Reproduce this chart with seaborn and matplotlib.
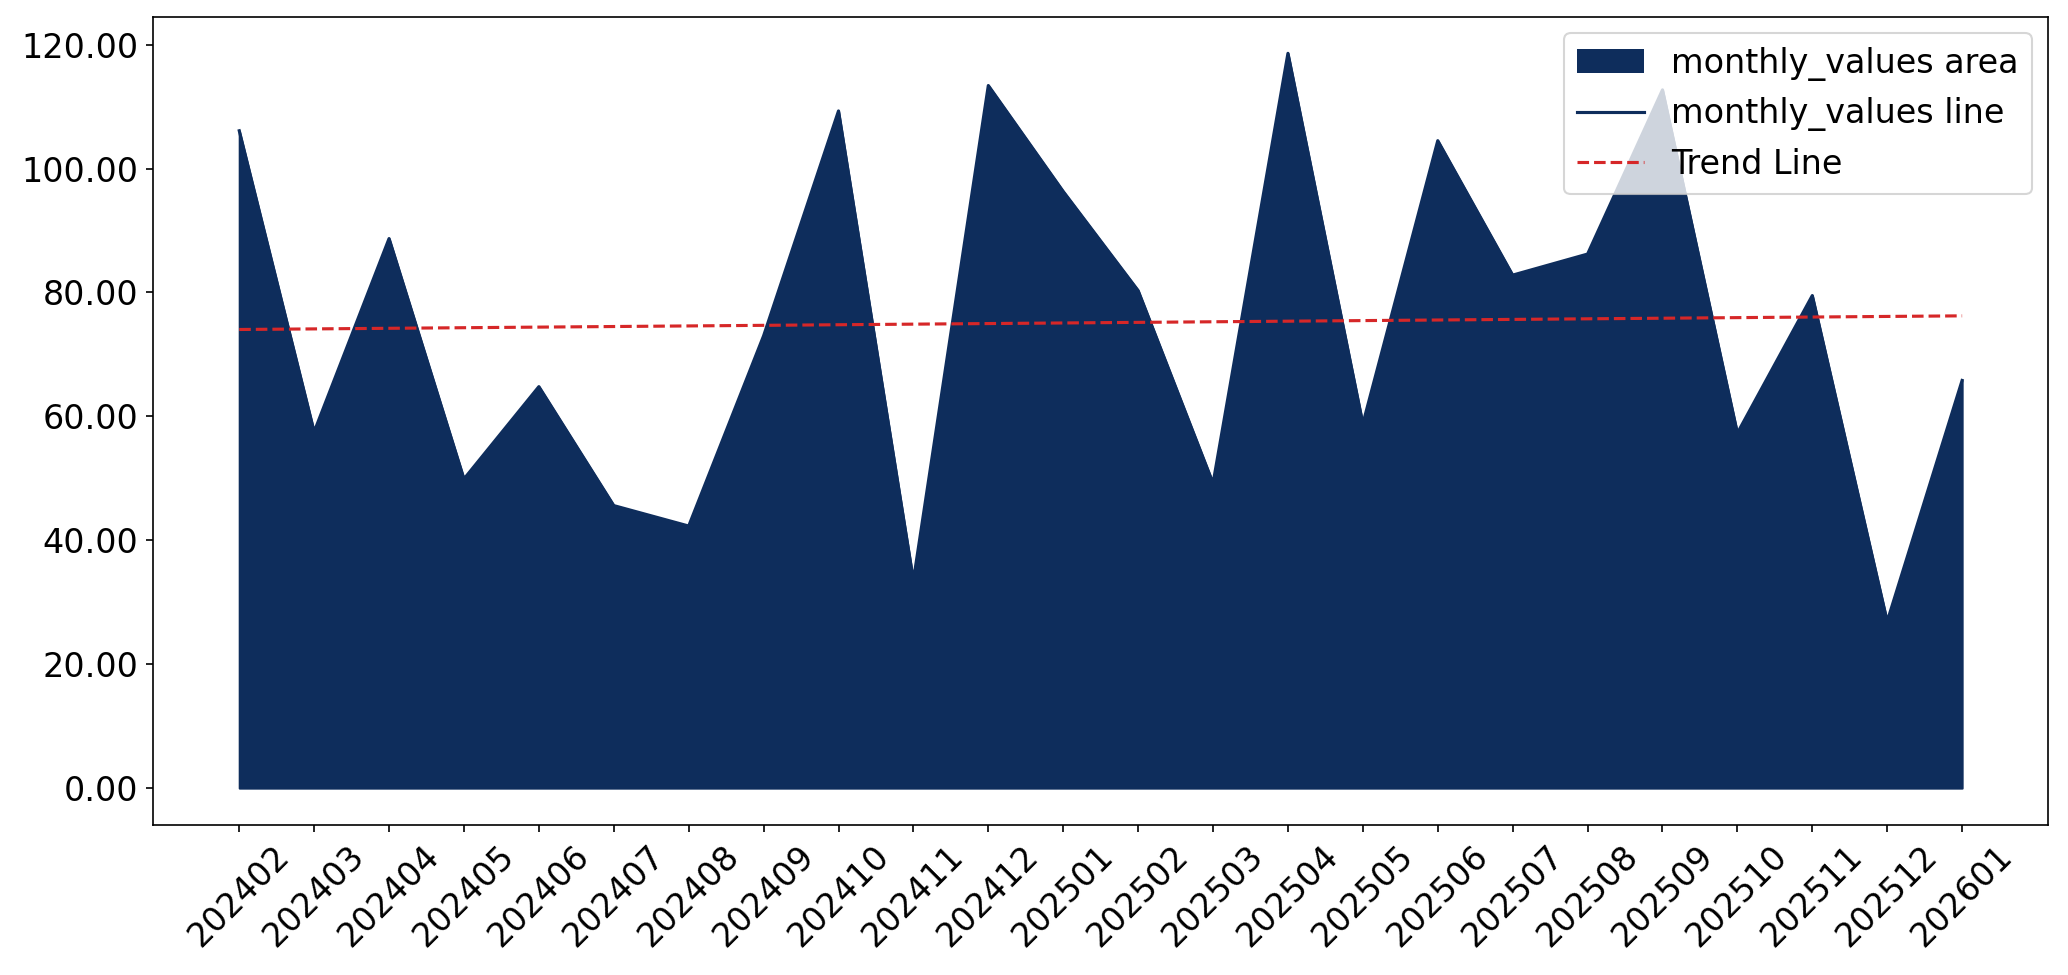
import matplotlib
matplotlib.use("Agg")
import matplotlib.pyplot as plt
from matplotlib.lines import Line2D
from matplotlib.patches import Patch
import seaborn as sns
import numpy as np
import pandas as pd

# Monthly values
months = ['202402', '202403', '202404', '202405', '202406', '202407',
          '202408', '202409', '202410', '202411', '202412', '202501',
          '202502', '202503', '202504', '202505', '202506', '202507',
          '202508', '202509', '202510', '202511', '202512', '202601']
monthly_values = [106.1, 57.5, 88.7, 49.9, 64.8, 45.6,
                  42.3, 73.0, 109.3, 33.5, 113.4, 96.3,
                  80.3, 49.2, 118.6, 58.8, 104.5, 82.8,
                  86.2, 112.7, 57.3, 79.5, 26.9, 65.8]

navy = '#0e2d5c'
trend_color = '#d62728'

df = pd.DataFrame({'month': months, 'value': monthly_values})
df['idx'] = np.arange(len(df))

# Linear trend over the series
slope, intercept = np.polyfit(df['idx'], df['value'], 1)
df['trend'] = slope * df['idx'] + intercept

fig, ax = plt.subplots(figsize=(13.793, 6.5), dpi=150)
fig.subplots_adjust(left=0.074, right=0.990, bottom=0.154, top=0.983)

ax.fill_between(df['idx'], df['value'], color=navy)
sns.lineplot(data=df, x='idx', y='value', color=navy, linewidth=1.5, ax=ax)
sns.lineplot(data=df, x='idx', y='trend', color=trend_color, linestyle='--',
             linewidth=1.5, ax=ax)

ax.set_xticks(df['idx'])
ax.set_xticklabels(df['month'], rotation=45, fontsize=16)
ax.tick_params(axis='y', labelsize=16)
ax.yaxis.set_major_formatter(matplotlib.ticker.FormatStrFormatter('%.2f'))
ax.set_xlabel('')
ax.set_ylabel('')

# Legend built explicitly so the handles keep the standard length
handles = [Patch(facecolor=navy, label='monthly_values area'),
           Line2D([], [], color=navy, linewidth=1.5, label='monthly_values line'),
           Line2D([], [], color=trend_color, linestyle='--', linewidth=1.5,
                  label='Trend Line')]
ax.legend(handles=handles, loc='upper right', fontsize=16)

fig.savefig('out.png', dpi=150)
